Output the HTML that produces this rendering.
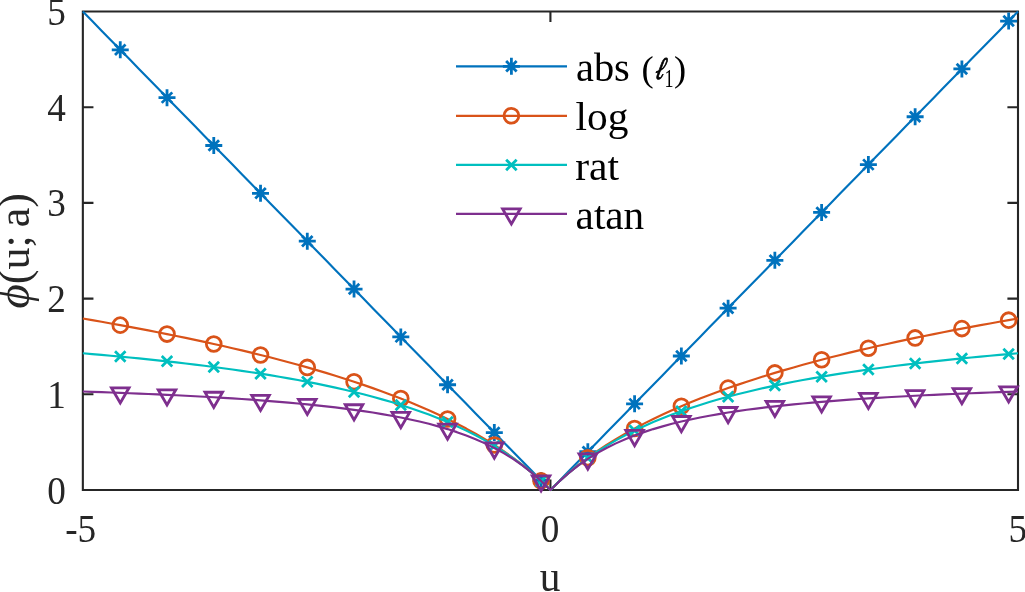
<!DOCTYPE html>
<html lang="en"><head><meta charset="utf-8"><title>penalty functions</title>
<style>html,body{margin:0;padding:0;background:#fff;overflow:hidden}svg{display:block}text{white-space:pre}</style>
</head><body>
<svg width="1025" height="592" viewBox="0 0 1025 592">
<defs><clipPath id="ax"><rect x="81.65" y="10.3" width="937.55" height="480.9"/></clipPath></defs>
<rect width="1025" height="592" fill="#fff"/>
<path d="M82.85 11.5H1018.0V490.0H82.85ZM82.85 394.3h10.6M1018.0 394.3h-10.6M82.85 298.6h10.6M1018.0 298.6h-10.6M82.85 202.9h10.6M1018.0 202.9h-10.6M82.85 107.2h10.6M1018.0 107.2h-10.6M550.42 490.0v-10.6M550.42 11.5v10.6" fill="none" stroke="#262626" stroke-width="2.1" stroke-linejoin="miter" stroke-linecap="butt"/>
<polyline points="82.85,11.5 92.2,21.07 101.55,30.64 110.9,40.21 120.26,49.78 129.61,59.35 138.96,68.92 148.31,78.49 157.66,88.06 167.01,97.63 176.37,107.2 185.72,116.77 195.07,126.34 204.42,135.91 213.77,145.48 223.12,155.05 232.47,164.62 241.83,174.19 251.18,183.76 260.53,193.33 269.88,202.9 279.23,212.47 288.58,222.04 297.93,231.61 307.29,241.18 316.64,250.75 325.99,260.32 335.34,269.89 344.69,279.46 354.04,289.03 363.39,298.6 372.75,308.17 382.1,317.74 391.45,327.31 400.8,336.88 410.15,346.45 419.5,356.02 428.86,365.59 438.21,375.16 447.56,384.73 456.91,394.3 466.26,403.87 475.61,413.44 484.96,423.01 494.32,432.58 503.67,442.15 513.02,451.72 522.37,461.29 531.72,470.86 541.07,480.43 550.42,490 559.78,480.43 569.13,470.86 578.48,461.29 587.83,451.72 597.18,442.15 606.53,432.58 615.89,423.01 625.24,413.44 634.59,403.87 643.94,394.3 653.29,384.73 662.64,375.16 671.99,365.59 681.35,356.02 690.7,346.45 700.05,336.88 709.4,327.31 718.75,317.74 728.1,308.17 737.45,298.6 746.81,289.03 756.16,279.46 765.51,269.89 774.86,260.32 784.21,250.75 793.56,241.18 802.92,231.61 812.27,222.04 821.62,212.47 830.97,202.9 840.32,193.33 849.67,183.76 859.02,174.19 868.38,164.62 877.73,155.05 887.08,145.48 896.43,135.91 905.78,126.34 915.13,116.77 924.49,107.2 933.84,97.63 943.19,88.06 952.54,78.49 961.89,68.92 971.24,59.35 980.59,49.78 989.95,40.21 999.3,30.64 1008.65,21.07 1018,11.5" fill="none" stroke="#0072BD" stroke-width="2.15" stroke-linejoin="round" clip-path="url(#ax)"/>
<path d="M111.76 49.78H128.76M120.26 41.28V58.28M115.01 44.53L125.51 55.03M115.01 55.03L125.51 44.53M158.51 97.63H175.51M167.01 89.13V106.13M161.76 92.38L172.26 102.88M161.76 102.88L172.26 92.38M205.27 145.48H222.27M213.77 136.98V153.98M208.52 140.23L219.02 150.73M208.52 150.73L219.02 140.23M252.03 193.33H269.03M260.53 184.83V201.83M255.28 188.08L265.78 198.58M255.28 198.58L265.78 188.08M298.79 241.18H315.79M307.29 232.68V249.68M302.04 235.93L312.54 246.43M302.04 246.43L312.54 235.93M345.54 289.03H362.54M354.04 280.53V297.53M348.79 283.78L359.29 294.28M348.79 294.28L359.29 283.78M392.3 336.88H409.3M400.8 328.38V345.38M395.55 331.63L406.05 342.13M395.55 342.13L406.05 331.63M439.06 384.73H456.06M447.56 376.23V393.23M442.31 379.48L452.81 389.98M442.31 389.98L452.81 379.48M485.82 432.58H502.82M494.32 424.08V441.08M489.07 427.33L499.57 437.83M489.07 437.83L499.57 427.33M532.57 480.43H549.57M541.07 471.93V488.93M535.82 475.18L546.32 485.68M535.82 485.68L546.32 475.18M579.33 451.72H596.33M587.83 443.22V460.22M582.58 446.47L593.08 456.97M582.58 456.97L593.08 446.47M626.09 403.87H643.09M634.59 395.37V412.37M629.34 398.62L639.84 409.12M629.34 409.12L639.84 398.62M672.85 356.02H689.85M681.35 347.52V364.52M676.1 350.77L686.6 361.27M676.1 361.27L686.6 350.77M719.6 308.17H736.6M728.1 299.67V316.67M722.85 302.92L733.35 313.42M722.85 313.42L733.35 302.92M766.36 260.32H783.36M774.86 251.82V268.82M769.61 255.07L780.11 265.57M769.61 265.57L780.11 255.07M813.12 212.47H830.12M821.62 203.97V220.97M816.37 207.22L826.87 217.72M816.37 217.72L826.87 207.22M859.88 164.62H876.88M868.38 156.12V173.12M863.13 159.37L873.63 169.87M863.13 169.87L873.63 159.37M906.63 116.77H923.63M915.13 108.27V125.27M909.88 111.52L920.38 122.02M909.88 122.02L920.38 111.52M953.39 68.92H970.39M961.89 60.42V77.42M956.64 63.67L967.14 74.17M956.64 74.17L967.14 63.67M1000.15 21.07H1017.15M1008.65 12.57V29.57M1003.4 15.82L1013.9 26.32M1003.4 26.32L1013.9 15.82" fill="none" stroke="#0072BD" stroke-width="2.8" stroke-linejoin="miter" stroke-miterlimit="10"/>
<polyline points="82.85,318.53 92.2,320.14 101.55,321.77 110.9,323.44 120.26,325.13 129.61,326.86 138.96,328.61 148.31,330.4 157.66,332.22 167.01,334.08 176.37,335.98 185.72,337.91 195.07,339.88 204.42,341.9 213.77,343.96 223.12,346.06 232.47,348.21 241.83,350.41 251.18,352.66 260.53,354.97 269.88,357.33 279.23,359.75 288.58,362.24 297.93,364.79 307.29,367.41 316.64,370.11 325.99,372.88 335.34,375.74 344.69,378.69 354.04,381.72 363.39,384.86 372.75,388.11 382.1,391.47 391.45,394.95 400.8,398.56 410.15,402.31 419.5,406.22 428.86,410.29 438.21,414.54 447.56,419 456.91,423.67 466.26,428.57 475.61,433.75 484.96,439.22 494.32,445.02 503.67,451.2 513.02,457.8 522.37,464.89 531.72,472.55 541.07,480.88 550.42,490 559.78,480.88 569.13,472.55 578.48,464.89 587.83,457.8 597.18,451.2 606.53,445.02 615.89,439.22 625.24,433.75 634.59,428.57 643.94,423.67 653.29,419 662.64,414.54 671.99,410.29 681.35,406.22 690.7,402.31 700.05,398.56 709.4,394.95 718.75,391.47 728.1,388.11 737.45,384.86 746.81,381.72 756.16,378.69 765.51,375.74 774.86,372.88 784.21,370.11 793.56,367.41 802.92,364.79 812.27,362.24 821.62,359.75 830.97,357.33 840.32,354.97 849.67,352.66 859.02,350.41 868.38,348.21 877.73,346.06 887.08,343.96 896.43,341.9 905.78,339.88 915.13,337.91 924.49,335.98 933.84,334.08 943.19,332.22 952.54,330.4 961.89,328.61 971.24,326.86 980.59,325.13 989.95,323.44 999.3,321.77 1008.65,320.14 1018,318.53" fill="none" stroke="#D95319" stroke-width="2.15" stroke-linejoin="round" clip-path="url(#ax)"/>
<path d="M112.86 325.13a7.4 7.4 0 1 0 14.8 0a7.4 7.4 0 1 0 -14.8 0ZM159.61 334.08a7.4 7.4 0 1 0 14.8 0a7.4 7.4 0 1 0 -14.8 0ZM206.37 343.96a7.4 7.4 0 1 0 14.8 0a7.4 7.4 0 1 0 -14.8 0ZM253.13 354.97a7.4 7.4 0 1 0 14.8 0a7.4 7.4 0 1 0 -14.8 0ZM299.89 367.41a7.4 7.4 0 1 0 14.8 0a7.4 7.4 0 1 0 -14.8 0ZM346.64 381.72a7.4 7.4 0 1 0 14.8 0a7.4 7.4 0 1 0 -14.8 0ZM393.4 398.56a7.4 7.4 0 1 0 14.8 0a7.4 7.4 0 1 0 -14.8 0ZM440.16 419a7.4 7.4 0 1 0 14.8 0a7.4 7.4 0 1 0 -14.8 0ZM486.92 445.02a7.4 7.4 0 1 0 14.8 0a7.4 7.4 0 1 0 -14.8 0ZM533.67 480.88a7.4 7.4 0 1 0 14.8 0a7.4 7.4 0 1 0 -14.8 0ZM580.43 457.8a7.4 7.4 0 1 0 14.8 0a7.4 7.4 0 1 0 -14.8 0ZM627.19 428.57a7.4 7.4 0 1 0 14.8 0a7.4 7.4 0 1 0 -14.8 0ZM673.95 406.22a7.4 7.4 0 1 0 14.8 0a7.4 7.4 0 1 0 -14.8 0ZM720.7 388.11a7.4 7.4 0 1 0 14.8 0a7.4 7.4 0 1 0 -14.8 0ZM767.46 372.88a7.4 7.4 0 1 0 14.8 0a7.4 7.4 0 1 0 -14.8 0ZM814.22 359.75a7.4 7.4 0 1 0 14.8 0a7.4 7.4 0 1 0 -14.8 0ZM860.98 348.21a7.4 7.4 0 1 0 14.8 0a7.4 7.4 0 1 0 -14.8 0ZM907.73 337.91a7.4 7.4 0 1 0 14.8 0a7.4 7.4 0 1 0 -14.8 0ZM954.49 328.61a7.4 7.4 0 1 0 14.8 0a7.4 7.4 0 1 0 -14.8 0ZM1001.25 320.14a7.4 7.4 0 1 0 14.8 0a7.4 7.4 0 1 0 -14.8 0Z" fill="none" stroke="#D95319" stroke-width="2.8" stroke-linejoin="miter" stroke-miterlimit="10"/>
<polyline points="82.85,353.29 92.2,354.08 101.55,354.89 110.9,355.73 120.26,356.6 129.61,357.49 138.96,358.41 148.31,359.36 157.66,360.34 167.01,361.35 176.37,362.4 185.72,363.48 195.07,364.6 204.42,365.76 213.77,366.96 223.12,368.2 232.47,369.49 241.83,370.83 251.18,372.22 260.53,373.66 269.88,375.16 279.23,376.72 288.58,378.35 297.93,380.05 307.29,381.82 316.64,383.67 325.99,385.6 335.34,387.62 344.69,389.74 354.04,391.97 363.39,394.3 372.75,396.75 382.1,399.34 391.45,402.06 400.8,404.93 410.15,407.97 419.5,411.19 428.86,414.6 438.21,418.23 447.56,422.08 456.91,426.2 466.26,430.6 475.61,435.31 484.96,440.38 494.32,445.83 503.67,451.72 513.02,458.1 522.37,465.03 531.72,472.6 541.07,480.89 550.42,490 559.78,480.89 569.13,472.6 578.48,465.03 587.83,458.1 597.18,451.72 606.53,445.83 615.89,440.38 625.24,435.31 634.59,430.6 643.94,426.2 653.29,422.08 662.64,418.23 671.99,414.6 681.35,411.19 690.7,407.97 700.05,404.93 709.4,402.06 718.75,399.34 728.1,396.75 737.45,394.3 746.81,391.97 756.16,389.74 765.51,387.62 774.86,385.6 784.21,383.67 793.56,381.82 802.92,380.05 812.27,378.35 821.62,376.72 830.97,375.16 840.32,373.66 849.67,372.22 859.02,370.83 868.38,369.49 877.73,368.2 887.08,366.96 896.43,365.76 905.78,364.6 915.13,363.48 924.49,362.4 933.84,361.35 943.19,360.34 952.54,359.36 961.89,358.41 971.24,357.49 980.59,356.6 989.95,355.73 999.3,354.89 1008.65,354.08 1018,353.29" fill="none" stroke="#00BFBF" stroke-width="2.15" stroke-linejoin="round" clip-path="url(#ax)"/>
<path d="M115.01 351.35L125.51 361.85M115.01 361.85L125.51 351.35M161.76 356.1L172.26 366.6M161.76 366.6L172.26 356.1M208.52 361.71L219.02 372.21M208.52 372.21L219.02 361.71M255.28 368.41L265.78 378.91M255.28 378.91L265.78 368.41M302.04 376.57L312.54 387.07M302.04 387.07L312.54 376.57M348.79 386.72L359.29 397.22M348.79 397.22L359.29 386.72M395.55 399.68L406.05 410.18M395.55 410.18L406.05 399.68M442.31 416.83L452.81 427.33M442.31 427.33L452.81 416.83M489.07 440.58L499.57 451.08M489.07 451.08L499.57 440.58M535.82 475.64L546.32 486.14M535.82 486.14L546.32 475.64M582.58 452.85L593.08 463.35M582.58 463.35L593.08 452.85M629.34 425.35L639.84 435.85M629.34 435.85L639.84 425.35M676.1 405.94L686.6 416.44M676.1 416.44L686.6 405.94M722.85 391.5L733.35 402M722.85 402L733.35 391.5M769.61 380.35L780.11 390.85M769.61 390.85L780.11 380.35M816.37 371.47L826.87 381.97M816.37 381.97L826.87 371.47M863.13 364.24L873.63 374.74M863.13 374.74L873.63 364.24M909.88 358.23L920.38 368.73M909.88 368.73L920.38 358.23M956.64 353.16L967.14 363.66M956.64 363.66L967.14 353.16M1003.4 348.83L1013.9 359.33M1003.4 359.33L1013.9 348.83" fill="none" stroke="#00BFBF" stroke-width="2.8" stroke-linejoin="miter" stroke-miterlimit="10"/>
<polyline points="82.85,391.54 92.2,391.85 101.55,392.18 110.9,392.52 120.26,392.87 129.61,393.23 138.96,393.61 148.31,394 157.66,394.42 167.01,394.84 176.37,395.29 185.72,395.76 195.07,396.24 204.42,396.75 213.77,397.28 223.12,397.84 232.47,398.43 241.83,399.04 251.18,399.69 260.53,400.37 269.88,401.08 279.23,401.84 288.58,402.64 297.93,403.49 307.29,404.38 316.64,405.34 325.99,406.35 335.34,407.43 344.69,408.58 354.04,409.81 363.39,411.13 372.75,412.55 382.1,414.07 391.45,415.72 400.8,417.5 410.15,419.44 419.5,421.54 428.86,423.83 438.21,426.35 447.56,429.1 456.91,432.14 466.26,435.5 475.61,439.22 484.96,443.36 494.32,447.98 503.67,453.15 513.02,458.94 522.37,465.45 531.72,472.74 541.07,480.91 550.42,490 559.78,480.91 569.13,472.74 578.48,465.45 587.83,458.94 597.18,453.15 606.53,447.98 615.89,443.36 625.24,439.22 634.59,435.5 643.94,432.14 653.29,429.1 662.64,426.35 671.99,423.83 681.35,421.54 690.7,419.44 700.05,417.5 709.4,415.72 718.75,414.07 728.1,412.55 737.45,411.13 746.81,409.81 756.16,408.58 765.51,407.43 774.86,406.35 784.21,405.34 793.56,404.38 802.92,403.49 812.27,402.64 821.62,401.84 830.97,401.08 840.32,400.37 849.67,399.69 859.02,399.04 868.38,398.43 877.73,397.84 887.08,397.28 896.43,396.75 905.78,396.24 915.13,395.76 924.49,395.29 933.84,394.84 943.19,394.42 952.54,394 961.89,393.61 971.24,393.23 980.59,392.87 989.95,392.52 999.3,392.18 1008.65,391.85 1018,391.54" fill="none" stroke="#7E2F8E" stroke-width="2.15" stroke-linejoin="round" clip-path="url(#ax)"/>
<path d="M111.46 387.82H129.06L120.26 403.02ZM158.21 389.79H175.81L167.01 404.99ZM204.97 392.23H222.57L213.77 407.43ZM251.73 395.32H269.33L260.53 410.52ZM298.49 399.33H316.09L307.29 414.53ZM345.24 404.76H362.84L354.04 419.96ZM392 412.45H409.6L400.8 427.65ZM438.76 424.05H456.36L447.56 439.25ZM485.52 442.93H503.12L494.32 458.13ZM532.27 475.86H549.87L541.07 491.06ZM579.03 453.89H596.63L587.83 469.09ZM625.79 430.45H643.39L634.59 445.65ZM672.55 416.49H690.15L681.35 431.69ZM719.3 407.5H736.9L728.1 422.7ZM766.06 401.3H783.66L774.86 416.5ZM812.82 396.79H830.42L821.62 411.99ZM859.58 393.38H877.18L868.38 408.58ZM906.33 390.71H923.93L915.13 405.91ZM953.09 388.56H970.69L961.89 403.76ZM999.85 386.8H1017.45L1008.65 402Z" fill="none" stroke="#7E2F8E" stroke-width="2.8" stroke-linejoin="miter" stroke-miterlimit="10"/>
<path d="M456.0 66.3H567.0" stroke="#0072BD" stroke-width="2.15" fill="none"/>
<path d="M502.9 66.3H519.9M511.4 57.8V74.8M506.15 61.05L516.65 71.55M506.15 71.55L516.65 61.05" fill="none" stroke="#0072BD" stroke-width="2.8" stroke-linejoin="miter" stroke-miterlimit="10"/>
<path d="M456.0 115.8H567.0" stroke="#D95319" stroke-width="2.15" fill="none"/>
<path d="M504 115.8a7.4 7.4 0 1 0 14.8 0a7.4 7.4 0 1 0 -14.8 0Z" fill="none" stroke="#D95319" stroke-width="2.8" stroke-linejoin="miter" stroke-miterlimit="10"/>
<path d="M456.0 164.9H567.0" stroke="#00BFBF" stroke-width="2.15" fill="none"/>
<path d="M506.15 159.65L516.65 170.15M506.15 170.15L516.65 159.65" fill="none" stroke="#00BFBF" stroke-width="2.8" stroke-linejoin="miter" stroke-miterlimit="10"/>
<path d="M456.0 213.9H567.0" stroke="#7E2F8E" stroke-width="2.15" fill="none"/>
<path d="M502.6 208.85H520.2L511.4 224.05Z" fill="none" stroke="#7E2F8E" stroke-width="2.8" stroke-linejoin="miter" stroke-miterlimit="10"/>
<text transform="translate(65.9 503.5) scale(0.93 1)" font-size="40.0" text-anchor="end" fill="#262626" font-family="Liberation Serif, serif">0</text>
<text transform="translate(65.9 407.8) scale(0.93 1)" font-size="40.0" text-anchor="end" fill="#262626" font-family="Liberation Serif, serif">1</text>
<text transform="translate(65.9 312.1) scale(0.93 1)" font-size="40.0" text-anchor="end" fill="#262626" font-family="Liberation Serif, serif">2</text>
<text transform="translate(65.9 216.4) scale(0.93 1)" font-size="40.0" text-anchor="end" fill="#262626" font-family="Liberation Serif, serif">3</text>
<text transform="translate(65.9 120.7) scale(0.93 1)" font-size="40.0" text-anchor="end" fill="#262626" font-family="Liberation Serif, serif">4</text>
<text transform="translate(65.9 25) scale(0.93 1)" font-size="40.0" text-anchor="end" fill="#262626" font-family="Liberation Serif, serif">5</text>
<text transform="translate(80.65 541.6) scale(0.93 1)" font-size="40.0" text-anchor="middle" fill="#262626" font-family="Liberation Serif, serif">-5</text>
<text transform="translate(550.12 541.6) scale(0.93 1)" font-size="40.0" text-anchor="middle" fill="#262626" font-family="Liberation Serif, serif">0</text>
<text transform="translate(1017.7 541.6) scale(0.93 1)" font-size="40.0" text-anchor="middle" fill="#262626" font-family="Liberation Serif, serif">5</text>
<text transform="translate(550.02 591) scale(0.94 1)" font-size="44.0" text-anchor="middle" fill="#262626" font-family="Liberation Serif, serif">u</text>
<text transform="translate(28.6 250.8) rotate(-90)" font-size="44.0" text-anchor="middle" word-spacing="-3" fill="#262626" font-family="Liberation Serif, serif"><tspan font-style="italic" font-size="47">ϕ</tspan>(u; a)</text>
<text transform="translate(576 80.5) scale(1.01 1)" font-size="40.0" fill="#000" font-family="Liberation Serif, serif">abs</text>
<text transform="translate(575.6 130.4) scale(1.035 1)" font-size="40.0" fill="#000" font-family="Liberation Serif, serif">log</text>
<text transform="translate(575.2 179.5) scale(1.04 1)" font-size="40.0" fill="#000" font-family="Liberation Serif, serif">rat</text>
<text transform="translate(575.6 228.5) scale(1.03 1)" font-size="40.0" fill="#000" font-family="Liberation Serif, serif">atan</text>
<text x="641.6" y="81.3" font-size="36.5" fill="#000" font-family="Liberation Serif, serif">(</text>
<text transform="translate(654.2 79.4) skewX(-14) scale(0.7 1)" font-size="31.5" font-style="italic" font-weight="bold" fill="#000" stroke="#000" stroke-width="0.9" font-family="Liberation Serif, serif">ℓ</text>
<text transform="translate(664.6 86.6) scale(0.72 1)" font-size="25" fill="#000" font-family="Liberation Serif, serif">1</text>
<text x="674.1" y="81.3" font-size="36.5" fill="#000" font-family="Liberation Serif, serif">)</text>
</svg>
</body></html>
